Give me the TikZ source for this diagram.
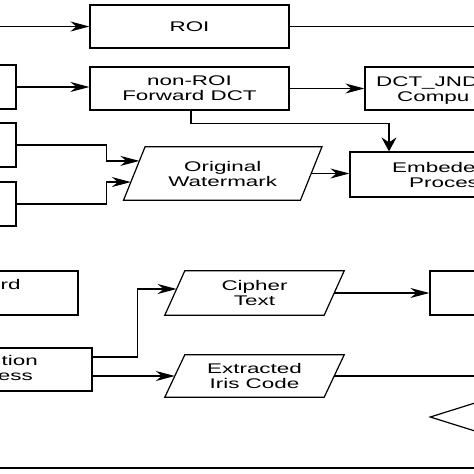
\documentclass[tikz,border=0pt]{standalone}
\usepackage{fontspec}
\setmainfont{Liberation Sans}[FakeStretch=1.6]
\usetikzlibrary{arrows.meta,calc,shapes.geometric}
\begin{document}
\begin{tikzpicture}[x=1pt,y=-1pt,
  box/.style={draw,line width=1.2pt,minimum width=199pt,minimum height=43pt,inner sep=0pt},
  core/.style={inner sep=0pt},
  txt/.style={font=\fontsize{14}{15}\selectfont,align=center},
  lbl/.style={txt,inner sep=0pt},
  ln/.style={line width=1.2pt},
  harr/.style={ln,-{Stealth[length=19pt,width=10pt,inset=6pt]}},
  varr/.style={ln,-{Stealth[length=14pt,width=15pt,inset=5pt]}}]
\useasboundingbox (0,0) rectangle (474,474);
\clip (0,0) rectangle (474,474);
\fill[white] (0,0) rectangle (474,474);

% top boxes
\node[box,txt] (roi) at (189.5,26.5) {ROI};
\node[box,txt] (nonroi) at (189.5,88.5) {non-ROI\\Forward DCT};
\node[box] (jnd) at (464.5,88.5) {};
\node[lbl,anchor=base west] (jndA) at (376,86) {DCT\_JND};
\node[lbl,anchor=base west] (jndB) at (397,101) {Compu};
\node[box,minimum height=45pt] (emb) at (449.5,174.5) {};
\node[lbl,anchor=base west] (embA) at (392,172) {Embede};
\node[lbl,anchor=base west] (embB) at (409,187) {Proces};

% left boxes (cut off)
\node[box,minimum height=44pt] (l1) at (-83.5,87) {};
\node[box,minimum height=44pt] (l2) at (-83.5,145) {};
\node[box,minimum height=44pt] (l3) at (-83.5,204) {};
\node[box,minimum height=44pt] (lrd) at (-21.5,293) {};
\node[lbl,anchor=base west] (lrdA) at (0.5,289) {rd};
\node[box,minimum height=43pt] (ltion) at (-7.5,369.5) {};
\node[lbl,anchor=base east] (ltionA) at (38,365) {tion};
\node[lbl,anchor=base east] (ltionB) at (33,380) {ess};

% parallelograms
\node[core,txt,minimum width=176.5pt,minimum height=53pt] (wm) at (222.75,173.5) {Original\\Watermark};
\coordinate (wmBL) at ([xshift=-10.75pt]wm.south west);
\coordinate (wmTL) at ([xshift=10.75pt]wm.north west);
\coordinate (wmTR) at ([xshift=10.75pt]wm.north east);
\coordinate (wmBR) at ([xshift=-10.75pt]wm.south east);
\draw[ln] (wmBL) -- (wmTL) -- (wmTR) -- (wmBR) -- cycle;

\node[core,txt,minimum width=159pt,minimum height=44pt] (cip) at (254.5,293) {Cipher\\Text};
\coordinate (cBL) at ([xshift=-10pt]cip.south west);
\coordinate (cTL) at ([xshift=10pt]cip.north west);
\coordinate (cTR) at ([xshift=10pt]cip.north east);
\coordinate (cBR) at ([xshift=-10pt]cip.south east);
\draw[ln] (cBL) -- (cTL) -- (cTR) -- (cBR) -- cycle;

\node[core,txt,minimum width=159pt,minimum height=42pt] (iris) at (254.5,376) {Extracted\\Iris Code};
\coordinate (iBL) at ([xshift=-10pt]iris.south west);
\coordinate (iTL) at ([xshift=10pt]iris.north west);
\coordinate (iTR) at ([xshift=10pt]iris.north east);
\coordinate (iBR) at ([xshift=-10pt]iris.south east);
\draw[ln] (iBL) -- (iTL) -- (iTR) -- (iBR) -- cycle;

% right boxes
\node[box,minimum height=44pt] (rbox) at (529.5,293) {};
\node[draw,diamond,line width=1.2pt,inner sep=0pt,minimum width=200pt,minimum height=63pt,aspect=3.17] (dec) at (530,417) {};

% connectors
\coordinate (roiin) at (-10,26.5);
\coordinate (roiout) at (490,26.5);
\draw[harr] (roiin) -- (roi.west);
\draw[ln] (roi.east) -- (roiout);
\draw[harr] (l1.east) -- (l1.east -| nonroi.west);
\draw[harr] (nonroi.east) -- (jnd.west);
\draw[varr] ([xshift=1.5pt]nonroi.south) -- ++(0,12.5) -| ([xshift=-60.5pt]emb.north);
\draw[harr] (l2.east) -- ++(90,0) |- ($(wmBL)!0.736!(wmTL)$);
\draw[harr] (l3.east) -- ++(90,0) |- ($(wmBL)!0.34!(wmTL)$);
\draw[harr] (wm.east) -- (wm.east -| emb.west);

\draw[harr] ([yshift=12.5pt]ltion.east) -- ++(45,0) |- ($(cBL)!0.59!(cTL)$);
\draw[harr] ([yshift=-6.5pt]ltion.east) -- (iris.west);
\draw[harr] (cip.east) -- (rbox.west);
\coordinate (irisout) at (490,376);
\draw[ln] (iris.east) -- (irisout);

\coordinate (bl1) at (-10,468);
\coordinate (bl2) at (490,468);
\draw[ln] (bl1) -- (bl2);
\end{tikzpicture}
\end{document}
